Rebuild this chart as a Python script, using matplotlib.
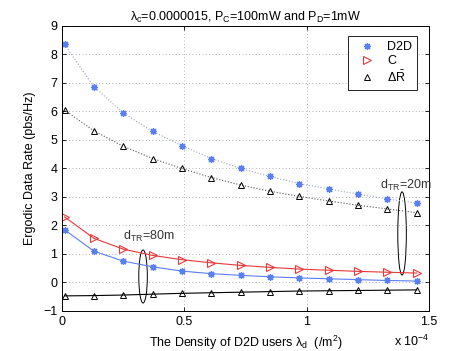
import matplotlib
matplotlib.use("Agg")
import matplotlib.pyplot as plt
from matplotlib.patches import Ellipse
from matplotlib.lines import Line2D

plt.rcParams['font.family'] = ['Liberation Sans', 'DejaVu Sans']
plt.rcParams['mathtext.fontset'] = 'custom'
plt.rcParams['mathtext.rm'] = 'Liberation Sans'
plt.rcParams['mathtext.it'] = 'Liberation Sans'

# density of D2D users (x 1e-4 /m^2)
density = [0.01, 0.13, 0.25, 0.37, 0.49, 0.61, 0.73, 0.85, 0.97, 1.09, 1.21, 1.33, 1.45]

# d_TR = 20m
d2d_20 = [8.35, 6.87, 5.95, 5.3, 4.8, 4.35, 4.0, 3.72, 3.47, 3.28, 3.1, 2.93, 2.79]
dr_20 = [6.05, 5.32, 4.78, 4.35, 4.0, 3.68, 3.42, 3.2, 3.02, 2.86, 2.71, 2.58, 2.45]

# d_TR = 80m
c_80 = [2.3, 1.55, 1.17, 0.95, 0.8, 0.69, 0.6, 0.53, 0.47, 0.43, 0.39, 0.36, 0.33]
d2d_80 = [1.85, 1.1, 0.75, 0.55, 0.4, 0.31, 0.25, 0.2, 0.16, 0.13, 0.1, 0.07, 0.05]
dr_80 = [-0.47, -0.46, -0.44, -0.41, -0.38, -0.36, -0.34, -0.32, -0.3, -0.29, -0.28, -0.27, -0.26]

blue = '#5a7ff0'
red = '#e8383a'
star = (8, 2, 0)

fig = plt.figure(figsize=(4.74, 3.51), dpi=100)
ax = fig.add_axes([0.131, 0.114, 0.774, 0.812])

ax.plot(density, d2d_20, ':', color='#9aa6c8', lw=0.8, marker=star, ms=5, mec=blue, mew=0.9)
ax.plot(density, dr_20, ':', color='#555555', lw=0.8, marker='^', ms=5, mfc='none', mec='black', mew=0.7)

ax.plot(density, d2d_80, '-', color=blue, lw=0.8, marker=star, ms=5, mec=blue, mew=0.9)
ax.plot(density, c_80, '-', color=red, lw=0.8, marker='>', ms=6, mfc='none', mec=red, mew=0.8)
ax.plot(density, dr_80, '-', color='black', lw=0.8, marker='^', ms=5, mfc='none', mec='black', mew=0.7)

ax.add_patch(Ellipse((0.331, 0.21), 0.035, 1.86, fill=False, ec='black', lw=0.7))
ax.add_patch(Ellipse((1.39, 1.72), 0.035, 2.92, fill=False, ec='black', lw=0.7))
ax.text(0.25, 1.6, r'd$_{\mathrm{TR}}$=80m', fontsize=9, va='center', color='#333333')
ax.text(1.3, 3.42, r'd$_{\mathrm{TR}}$=20m', fontsize=9, va='center', color='#333333')

ax.set_xlim(0, 1.5)
ax.set_ylim(-1, 9)
ax.set_xticks([0, 0.5, 1, 1.5])
ax.set_xticklabels(['0', '0.5', '1', '1.5'])
ax.set_yticks(range(-1, 10))
ax.set_yticklabels(['\u22121'] + [str(i) for i in range(0, 10)])
ax.tick_params(direction='in', labelsize=9, length=3, width=0.6, top=True, right=True)
ax.grid(True, ls=(0, (1, 3)), color='#999999', lw=0.6)
for s in ax.spines.values():
    s.set_linewidth(0.7)

ax.set_title(r'$\lambda_{\mathrm{c}}$=0.0000015, P$_{\mathrm{C}}$=100mW and P$_{\mathrm{D}}$=1mW', fontsize=9, pad=4)
ax.set_xlabel(r'The Density of D2D users $\lambda_{\mathrm{d}}$  (/m$^2$)', fontsize=9)
ax.set_ylabel('Ergodic Data Rate (pbs/Hz)', fontsize=9, labelpad=5)
ax.text(1.0, -0.08, r'x 10$^{-4}$', transform=ax.transAxes, fontsize=9, ha='right', va='top')

handles = [
    Line2D([], [], ls='none', marker=star, ms=5, mec=blue, mew=0.9),
    Line2D([], [], ls='none', marker='>', ms=6, mfc='none', mec=red, mew=0.8),
    Line2D([], [], ls='none', marker='^', ms=5, mfc='none', mec='black', mew=0.7),
]
leg = ax.legend(handles, ['D2D', 'C', r'$\Delta\bar{\mathrm{R}}$'], loc='upper right',
                bbox_to_anchor=(0.985, 0.985),
                fontsize=9, fancybox=False, edgecolor='black', framealpha=1, borderpad=0.4,
                handlelength=2.2, handletextpad=0.5, labelspacing=0.15)
leg.get_frame().set_linewidth(0.6)

fig.savefig('out.png', dpi=100)
